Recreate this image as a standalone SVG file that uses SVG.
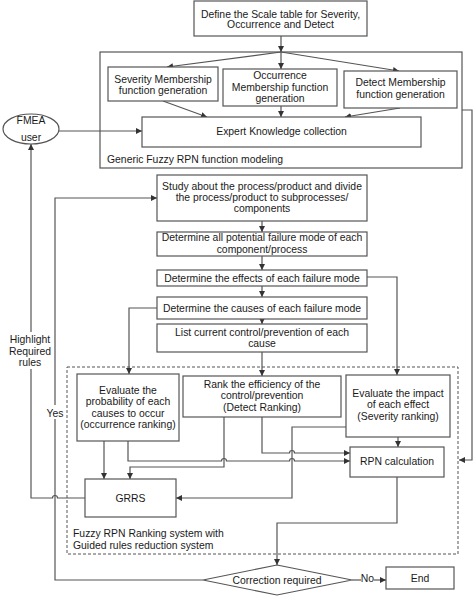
<svg xmlns="http://www.w3.org/2000/svg" width="474" height="597" viewBox="0 0 474 597">
<defs>
<marker id="ah" viewBox="0 0 6 6" refX="6" refY="3" markerWidth="6" markerHeight="6" markerUnits="userSpaceOnUse" orient="auto">
<path d="M0,0 L6,3 L0,6 z" fill="#333"/>
</marker>
<style>
.box{fill:#fff;stroke:#555;stroke-width:1.2}
.grp{fill:none;stroke:#555;stroke-width:1.2}
.dash{fill:none;stroke:#555;stroke-width:1;stroke-dasharray:3,2}
.ln{fill:none;stroke:#555;stroke-width:1.2}
.ar{marker-end:url(#ah)}
text{font-family:"Liberation Sans",Arial,sans-serif;font-size:10.4px;fill:#1a1a1a}
.c{text-anchor:middle}
</style>
</defs>
<rect width="474" height="597" fill="#fff"/>

<g id="group-generic">
<rect class="grp" x="100" y="52" width="362" height="116"/>
<text x="107" y="163">Generic Fuzzy RPN function modeling</text>
</g>
<g id="group-fuzzy">
<rect class="dash" x="67" y="367" width="391" height="187"/>
<text x="73" y="537">Fuzzy RPN Ranking system with</text>
<text x="73" y="549">Guided rules reduction system</text>
</g>

<g id="connectors">
<path class="ln ar" d="M281,36 V52"/>
<path class="ln ar" d="M281,52 L167,67"/>
<path class="ln ar" d="M281,52 V69"/>
<path class="ln ar" d="M281,52 L399,71"/>
<path class="ln ar" d="M163,101 L207,117"/>
<path class="ln ar" d="M281,106 V117"/>
<path class="ln ar" d="M400,108 L345,117"/>
<path class="ln ar" d="M59,131 H142"/>
<path class="ln ar" d="M462,110 H472 V460 H459"/>
<path class="ln ar" d="M262,221 V232"/>
<path class="ln ar" d="M262,256 V270"/>
<path class="ln ar" d="M262,286 V297"/>
<path class="ln ar" d="M262,319 V324"/>
<path class="ln ar" d="M262,352 V376"/>
<path class="ln ar" d="M367,277 H397 V375"/>
<path class="ln ar" d="M157,308 H129 V374"/>
<path class="ln ar" d="M398,437 V447"/>
<path class="ln ar" d="M262,417 V453 H289.5 a2.5,2.5 0 0 1 5,0 H350"/>
<path class="ln ar" d="M128,441 V461 H221.5 a2.5,2.5 0 0 1 5,0 H289.5 a2.5,2.5 0 0 1 5,0 H350"/>
<path class="ln ar" d="M224,417 V467 H130 V479"/>
<path class="ln ar" d="M104,441 V479"/>
<path class="ln ar" d="M346,427 H292 V498 H176"/>
<path class="ln" d="M85,498 H57.5 a2.5,2.5 0 0 0 -5,0 H31 V369"/>
<path class="ln ar" d="M31,332 V144"/>
<path class="ln" d="M203,580 H55 V419"/>
<path class="ln ar" d="M55,405 V198 H157"/>
<path class="ln ar" d="M397,477 V523 H277 V565"/>
<path class="ln" d="M352,580 H361"/>
<path class="ln ar" d="M374,580 H386"/>
<text class="c" x="30" y="343">Highlight</text>
<text class="c" x="30" y="355">Required</text>
<text class="c" x="30" y="366">rules</text>
<text class="c" x="55" y="417">Yes</text>
<text class="c" x="367.5" y="582">No</text>
</g>

<g id="node-scale">
<rect class="box" x="194" y="1" width="173" height="35"/>
<text class="c" x="280.5" y="17.5">Define the Scale table for Severity,</text>
<text class="c" x="280.5" y="28">Occurrence and Detect</text>
</g>
<g id="node-severity-mf">
<rect class="box" x="108" y="67" width="110" height="34"/>
<text class="c" x="163" y="82.5">Severity Membership</text>
<text class="c" x="163" y="93.5">function generation</text>
</g>
<g id="node-occurrence-mf">
<rect class="box" x="223" y="69" width="114" height="37"/>
<text class="c" x="280" y="78.5">Occurrence</text>
<text class="c" x="280" y="90.5">Membership function</text>
<text class="c" x="280" y="102">generation</text>
</g>
<g id="node-detect-mf">
<rect class="box" x="344" y="71" width="113" height="37"/>
<text class="c" x="400.5" y="85.5">Detect Membership</text>
<text class="c" x="400.5" y="97.5">function generation</text>
</g>
<g id="node-expert">
<rect class="box" x="142" y="117" width="279" height="30"/>
<text class="c" x="281.5" y="135">Expert Knowledge collection</text>
</g>
<g id="node-fmea-user">
<ellipse class="box" cx="31" cy="129" rx="28" ry="15"/>
<text class="c" x="31" y="123.5">FMEA</text>
<text class="c" x="31" y="140.5">user</text>
</g>
<g id="node-study">
<rect class="box" x="157" y="175" width="210" height="46"/>
<text class="c" x="262" y="189.5">Study about the process/product and divide</text>
<text class="c" x="262" y="200.5">the process/product to subprocesses/</text>
<text class="c" x="262" y="211.5">components</text>
</g>
<g id="node-failure-mode">
<rect class="box" x="157" y="232" width="210" height="24"/>
<text class="c" x="262" y="241">Determine all potential failure mode of each</text>
<text class="c" x="262" y="252.5">component/process</text>
</g>
<g id="node-effects">
<rect class="box" x="157" y="270" width="210" height="16"/>
<text class="c" x="262" y="281.5">Determine the effects of each failure mode</text>
</g>
<g id="node-causes">
<rect class="box" x="157" y="297" width="210" height="22"/>
<text class="c" x="262" y="311.5">Determine the causes of each failure mode</text>
</g>
<g id="node-controls">
<rect class="box" x="157" y="324" width="210" height="28"/>
<text class="c" x="262" y="335.5">List current control/prevention of each</text>
<text class="c" x="262" y="346.5">cause</text>
</g>
<g id="node-occurrence-rank">
<rect class="box" x="77" y="374" width="102" height="67"/>
<text class="c" x="128" y="393.5">Evaluate the</text>
<text class="c" x="128" y="405">probability of each</text>
<text class="c" x="128" y="416.5">causes to occur</text>
<text class="c" x="128" y="428">(occurrence ranking)</text>
</g>
<g id="node-detect-rank">
<rect class="box" x="183" y="376" width="158" height="41"/>
<text class="c" x="262" y="387.5">Rank the efficiency of the</text>
<text class="c" x="262" y="399">control/prevention</text>
<text class="c" x="262" y="410.5">(Detect Ranking)</text>
</g>
<g id="node-severity-rank">
<rect class="box" x="346" y="375" width="104" height="62"/>
<text class="c" x="398" y="396.5">Evaluate the impact</text>
<text class="c" x="398" y="408">of each effect</text>
<text class="c" x="398" y="420">(Severity ranking)</text>
</g>
<g id="node-rpn">
<rect class="box" x="350" y="447" width="94" height="30"/>
<text class="c" x="397" y="465">RPN calculation</text>
</g>
<g id="node-grrs">
<rect class="box" x="85" y="479" width="91" height="38"/>
<text class="c" x="130.5" y="501.5">GRRS</text>
</g>
<g id="node-correction">
<polygon class="box" points="277,565 352,580 277,595 203,580"/>
<text class="c" x="277" y="584">Correction required</text>
</g>
<g id="node-end">
<rect class="box" x="386" y="567" width="68" height="22"/>
<text class="c" x="420" y="582">End</text>
</g>
</svg>
